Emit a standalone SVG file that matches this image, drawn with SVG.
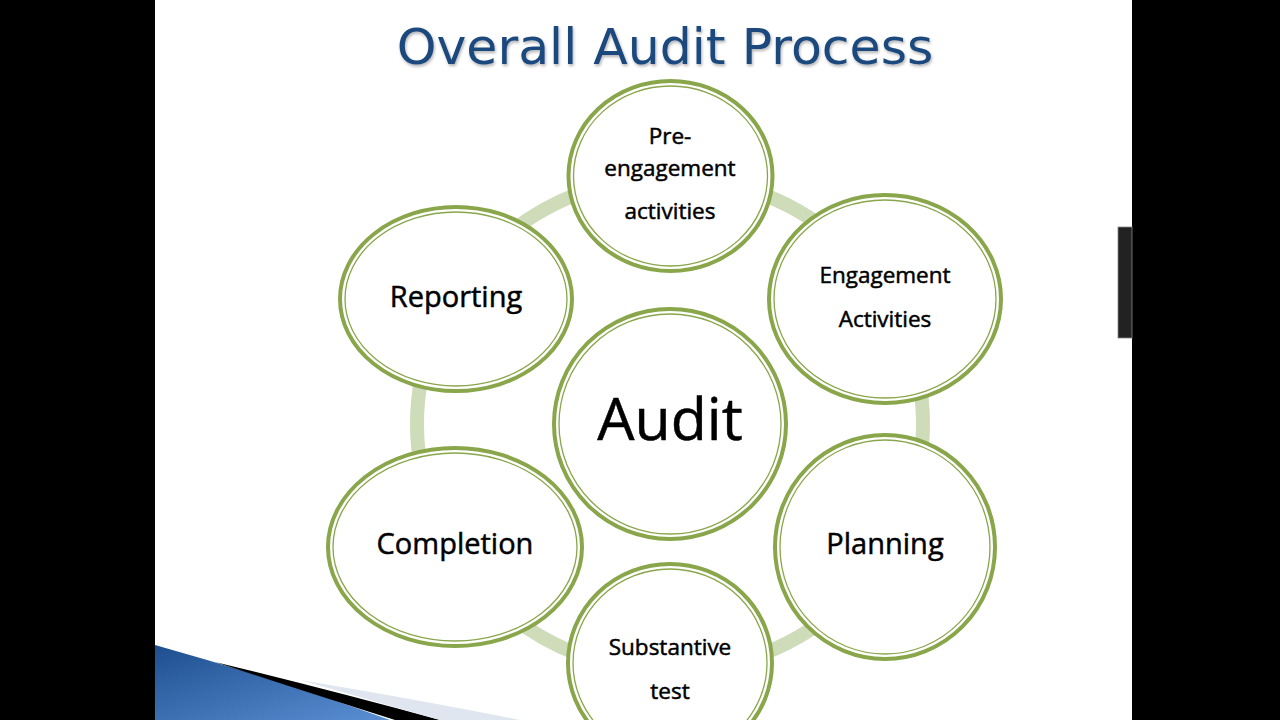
<svg xmlns="http://www.w3.org/2000/svg" width="1280" height="720" viewBox="0 0 1280 720">
<defs>
<style>
.outer{fill:#ffffff;stroke:#89a64b;stroke-width:4}
.inner{fill:none;stroke:#89a64b;stroke-width:1.3}
.lbl{font-family:"Open Sans","DejaVu Sans",sans-serif;fill:#000;stroke:#000;stroke-width:0.5;text-anchor:middle}
.s21{font-size:22.5px}
.s26{font-size:29px}
</style>
<linearGradient id="blue" x1="0" y1="0" x2="1" y2="1">
<stop offset="0" stop-color="#1d4f8f"/>
<stop offset="1" stop-color="#5b8fd4"/>
</linearGradient>
<filter id="sh" x="-5%" y="-20%" width="110%" height="140%">
<feDropShadow dx="1" dy="2" stdDeviation="1.5" flood-color="#000" flood-opacity="0.3"/>
</filter>
</defs>
<rect x="0" y="0" width="1280" height="720" fill="#000"/>
<rect x="155" y="0" width="977" height="720" fill="#fff"/>
<rect x="1118" y="227" width="14" height="111" fill="#222" stroke="#888" stroke-width="0.8"/>
<g id="decoration">
<path d="M155,645 Q280,680 390,720 L155,720 Z" fill="url(#blue)"/>
<path d="M215,662 Q330,690 440,720 L395,720 Q300,690 215,662 Z" fill="#000"/>
<path d="M300,680 Q420,700 520,720 L440,720 Q370,700 300,680 Z" fill="#dfe6ef"/>
</g>
<text x="665" y="64" font-family="'DejaVu Sans','Open Sans',sans-serif" font-size="50.5" fill="#1f497d" text-anchor="middle" filter="url(#sh)">Overall Audit Process</text>
<g id="connectors">
<ellipse cx="670" cy="424" rx="253" ry="247" fill="none" stroke="#cfdcba" stroke-width="14"/>
</g>
<g id="node-pre">
<ellipse class="outer" cx="670.5" cy="176" rx="102" ry="95"/>
<ellipse class="inner" cx="670.5" cy="176" rx="97" ry="90"/>
<text class="lbl s21" x="670" y="144">Pre-</text>
<text class="lbl s21" x="670" y="176">engagement</text>
<text class="lbl s21" x="670" y="219">activities</text>
</g>
<g id="node-engagement">
<ellipse class="outer" cx="885" cy="299" rx="116" ry="104"/>
<ellipse class="inner" cx="885" cy="299" rx="111" ry="99"/>
<text class="lbl s21" x="885" y="283">Engagement</text>
<text class="lbl s21" x="885" y="327">Activities</text>
</g>
<g id="node-reporting">
<ellipse class="outer" cx="456" cy="299" rx="116" ry="92"/>
<ellipse class="inner" cx="456" cy="299" rx="111" ry="87"/>
<text class="lbl s26" x="456" y="307">Reporting</text>
</g>
<g id="node-planning">
<ellipse class="outer" cx="885" cy="547" rx="110" ry="112"/>
<ellipse class="inner" cx="885" cy="547" rx="105" ry="107"/>
<text class="lbl s26" x="885" y="554">Planning</text>
</g>
<g id="node-completion">
<ellipse class="outer" cx="455" cy="547" rx="127" ry="99"/>
<ellipse class="inner" cx="455" cy="547" rx="122" ry="94"/>
<text class="lbl s26" x="455" y="554">Completion</text>
</g>
<g id="node-substantive">
<ellipse class="outer" cx="670" cy="663" rx="102" ry="99"/>
<ellipse class="inner" cx="670" cy="663" rx="97" ry="94"/>
<text class="lbl s21" x="670" y="655">Substantive</text>
<text class="lbl s21" x="670" y="699">test</text>
</g>
<g id="node-audit">
<ellipse class="outer" cx="670" cy="424" rx="116" ry="115"/>
<ellipse class="inner" cx="670" cy="424" rx="111" ry="110"/>
<text class="lbl" x="670" y="440" font-size="59" stroke-width="0.3">Audit</text>
</g>
</svg>
